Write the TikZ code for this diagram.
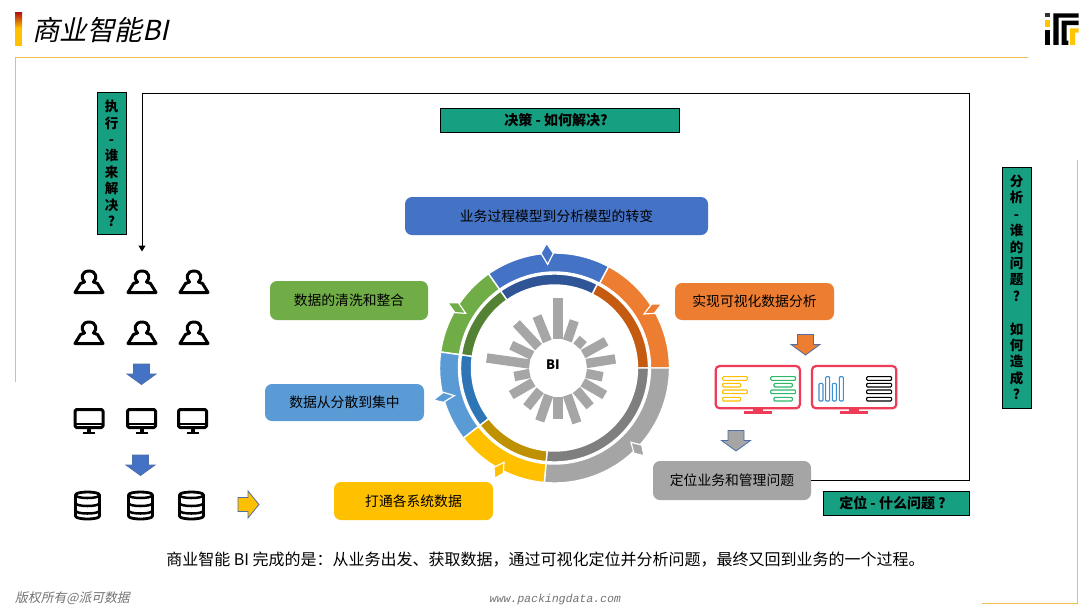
\documentclass[tikz,border=0pt]{standalone}
\usepackage{fontspec}
\usetikzlibrary{arrows.meta}
\setmainfont{Noto Sans CJK SC}
\newfontfamily\slantfont[FakeSlant=0.22]{Noto Sans CJK SC}
\newfontfamily\urlfont[FakeSlant=0.2]{Liberation Mono}
\definecolor{teal1}{HTML}{179F82}
\definecolor{frameO}{HTML}{F0BC55}
\definecolor{cBlue}{HTML}{4472C4}\definecolor{cBlueD}{HTML}{2F5597}
\definecolor{cOra}{HTML}{ED7D31}\definecolor{cOraD}{HTML}{C55A11}
\definecolor{cGra}{HTML}{A5A5A5}\definecolor{cGraD}{HTML}{7F7F7F}
\definecolor{cYel}{HTML}{FFC000}\definecolor{cYelD}{HTML}{BF9000}
\definecolor{cSky}{HTML}{5B9BD5}\definecolor{cSkyD}{HTML}{2E75B6}
\definecolor{cGre}{HTML}{70AD47}\definecolor{cGreD}{HTML}{548235}
\definecolor{monRed}{HTML}{EE3B57}
\definecolor{arrowEdge}{HTML}{2F5597}
\definecolor{barGray}{HTML}{A6A6A6}
\definecolor{barTop}{HTML}{B01010}
\definecolor{pillGreen}{HTML}{2DB96A}
\definecolor{pillBlue}{HTML}{3C8FD0}
\tikzset{
  rbox/.style={rounded corners=7pt,minimum width=#1,inner sep=0pt,font=\fontsize{13.8pt}{15pt}\selectfont,text=black},
  tealbox/.style={draw=black,line width=1pt,fill=teal1,inner sep=0pt,font=\fontsize{14pt}{16pt}\selectfont\bfseries,text=black},
  vbox/.style={tealbox,align=center,text width=28pt,minimum width=29pt},
  frameline/.style={draw=frameO,line width=1pt},
  conn/.style={draw=black,line width=1pt},
  icon/.style={draw=black,line width=3pt,line join=round,fill=white},
  person/.pic={\path[icon] (-14,0)--(14,0)--(8.5,-9)--(4.5,-10.5) .. controls (8.5,-14) and (7.5,-21.5) .. (0,-21.5) .. controls (-7.5,-21.5) and (-8.5,-14) .. (-4.5,-10.5) -- (-8.5,-9) -- cycle;},
  screen/.pic={\path[icon,rounded corners=1.5pt] (-14,-11.5)rectangle(14,6.5);
    \draw[black,line width=1.2pt] (-14,3)--(14,3);
    \fill[black] (-2,6.5)rectangle(2,11); \fill[black] (-6,10.5)rectangle(6,12.8);},
  dbase/.pic={\path[draw=black,fill=white,line width=2.8pt,line join=round] (-12,-10.5) .. controls (-12,-14.5) and (12,-14.5) .. (12,-10.5) -- (12,10.5) .. controls (12,14.5) and (-12,14.5) .. (-12,10.5) -- cycle;
    \draw[black,line width=2.5pt] (-12,-10.5) .. controls (-12,-6.5) and (12,-6.5) .. (12,-10.5);
    \draw[black,line width=2.5pt] (-12,-2.5) .. controls (-12,1.5) and (12,1.5) .. (12,-2.5);
    \draw[black,line width=2.5pt] (-12,5) .. controls (-12,9) and (12,9) .. (12,5);},
  darrow/.pic={\path[draw=arrowEdge!85,fill=#1,line width=.8pt] (-8,0)--(8,0)--(8,10)--(14.5,10)--(0,20.5)--(-14.5,10)--(-8,10)--cycle;},
  seg/.style={line width=1.4pt,draw=white},
  notchmark/.style={draw=white,line width=1.2pt},
  mon/.style={draw=monRed,line width=2.2pt,rounded corners=4pt,fill=white},
  pill/.style={rounded corners=1pt,line width=1.1pt,fill=white}
}
% annular sector: center set by scope; #1 colour, #2 start, #3 end, #4 inner r, #5 outer r
\newcommand{\ringseg}[5]{\path[fill=#1,seg] (#2:#4) arc[start angle=#2,end angle=#3,radius=#4] -- (#3:#5) arc[start angle=#3,end angle=#2,radius=#5] -- cycle;}
\newcommand{\raybar}[2]{\fill[barGray,rotate=-#1] (-4.7,28.7) rectangle (4.7,#2);}
\begin{document}
\begin{tikzpicture}[x=1pt,y=-1pt]
\useasboundingbox (0,0) rectangle (1092,611);
\fill[white] (0,0) rectangle (1092,611);
% title
\shade[top color=barTop,bottom color=cYel] (15,12) rectangle (22,28);
\fill[cYel] (15,28) rectangle (22,45.5);
\node[anchor=west,inner sep=0pt,font=\slantfont\fontsize{27.5pt}{30pt}\selectfont] (title) at (32,29.5) {商业智能BI};
% logo
\begin{scope}[shift={(960,0)},x=.3333pt,y=-.3333pt]
\fill[black!80] (255,40) rectangle (271,51);
\fill[cYel!90!yellow] (255,60) rectangle (271,81);
\fill[black] (255,90) rectangle (271,135);
\fill[black] (280,135) -- (280,40) -- (356,40) -- (356,53) -- (296,53) -- (296,135) -- cycle;
\fill[black] (305,135) -- (305,62) -- (356,62) -- (356,75) -- (320,75) -- (320,122) -- (325,122) -- (325,135) -- cycle;
\fill[cYel!90!yellow] (330,135) -- (330,85) -- (356,85) -- (356,98) -- (345,98) -- (345,135) -- cycle;
\end{scope}
% frame lines
\draw[frameline] (15.5,382) -- (15.5,57.5) -- (1028,57.5);
\draw[frameline] (1077.5,160) -- (1077.5,603) -- (982,603);
% colored boxes
\node[rbox=303pt,minimum height=38pt,fill=cBlue] (b1) at (556.5,216) {业务过程模型到分析模型的转变};
\node[rbox=158pt,minimum height=39pt,fill=cGre] (b2) at (349,300.5) {数据的清洗和整合};
\node[rbox=159pt,minimum height=37pt,fill=cOra] (b3) at (754.5,301.5) {实现可视化数据分析};
\node[rbox=159pt,minimum height=37pt,fill=cSky] (b4) at (344.5,402.5) {数据从分散到集中};
\node[rbox=159pt,minimum height=38pt,fill=cYel] (b5) at (413.5,501) {打通各系统数据};
\node[rbox=158pt,minimum height=39pt,fill=cGra] (b6) at (732,480.5) {定位业务和管理问题};
% teal boxes
\node[tealbox,minimum width=239pt,minimum height=24pt] (t1) at (559.5,120) {决策 - 如何解决?\hspace*{7pt}};
\node[tealbox,minimum width=146pt,minimum height=24pt] (t2) at (896,503) {定位 - 什么问题 ?\hspace*{7pt}};
\node[vbox,minimum height=142pt,font=\fontsize{13.5pt}{16.4pt}\selectfont\bfseries] (t3) at (111.5,163.5) {执\\行\\-\\谁\\来\\解\\决\\?};
\node[vbox,minimum height=241pt,font=\fontsize{13.5pt}{16.4pt}\selectfont\bfseries] (t4) at (1016.5,287.5) {分\\析\\-\\谁\\的\\问\\题\\?\\~\\如\\何\\造\\成\\?};
% connector
\coordinate (c1) at (969,480.5);
\coordinate (c2) at (969,93);
\coordinate (c3) at (142,93);
\coordinate (c4) at (142,251.5);
\draw[conn,-{Triangle[length=6pt,width=7pt]}] (b6.east) -- (c1) -- (c2) -- (c3) -- (c4);
% wheel
\begin{scope}[shift={(554.5,368)},x=1pt,y=1pt]
\ringseg{cOra}{0}{62}{96}{115}
\ringseg{cBlue}{62}{125}{96}{115}
\ringseg{cGre}{125}{172}{96}{115}
\ringseg{cSky}{172}{217.6}{96}{115}
\ringseg{cYel}{217.6}{265}{96}{115}
\ringseg{cGra}{265}{360}{96}{115}
\ringseg{cOraD}{0}{63}{83}{94}
\ringseg{cBlueD}{63}{125}{83}{94}
\ringseg{cGreD}{125}{172}{83}{94}
\ringseg{cSkyD}{172}{217.6}{83}{94}
\ringseg{cYelD}{217.6}{265}{83}{94}
\ringseg{cGraD}{265}{360}{83}{94}
\end{scope}
% wheel markers (positions in 3x crop coordinates)
\begin{scope}[shift={(420,230)},x=.3333pt,y=-.3333pt]
\path[fill=cBlue,notchmark] (380,40)--(400,70)--(383,103)--(363,70)--cycle;
\path[fill=cOra,notchmark] (695,222)--(725,222)--(703,250)--(672,252)--cycle;
\path[fill=cGra,notchmark] (633,637)--(665,645)--(672,677)--(642,670)--cycle;
\path[fill=cYel,notchmark] (222,712)--(252,697)--(250,730)--(224,745)--cycle;
\path[fill=cSky,notchmark] (70,487)--(103,497)--(70,517)--(40,510)--cycle;
\path[fill=cGre,notchmark] (83,218)--(115,218)--(137,250)--(105,248)--cycle;
\end{scope}
% central rays
\begin{scope}[shift={(558,368)},x=1pt,y=1pt]
\raybar{0}{70}\raybar{19}{50}\raybar{41}{38.5}\raybar{61}{55}\raybar{81}{58}\raybar{101}{45.5}
\raybar{120}{54}\raybar{140}{50}\raybar{161}{58}\raybar{180}{51}\raybar{199}{56}\raybar{218.5}{50}
\raybar{240}{54}\raybar{259}{44.5}\raybar{278}{72}\raybar{296}{52}\raybar{317}{61}\raybar{338}{56}
\end{scope}
\node[font=\fontsize{13pt}{15pt}\selectfont\bfseries,inner sep=0pt] (bi) at (553,365) {BI};
% people, screens, databases
\foreach \px in {89,142,194}{
  \foreach \py in {292.5,343.5}{
    \pic at (\px,\py) {person};
  }
}
\foreach \px in {89,141.5,192.5}{
  \pic at (\px,421) {screen};
}
\foreach \px in {87.5,140.5,191.5}{
  \pic at (\px,505.5) {dbase};
}
% arrows
\pic at (141.5,364) {darrow=cBlue};
\pic at (140.5,455) {darrow=cBlue};
\pic at (805.5,334.5) {darrow=cOra};
\pic at (736,430.5) {darrow=cGra};
\path[draw=arrowEdge!85,fill=cYel,line width=.8pt] (238,497.5)--(248,497.5)--(248,491)--(259,504.5)--(248,518)--(248,511.5)--(238,511.5)--cycle;
% red monitors (3x crop coordinates)
\begin{scope}[shift={(700,320)},x=.3333pt,y=-.3333pt]
\foreach \dx in {0,289}{
  \path[mon] (47+\dx,138) rectangle (300+\dx,265);
  \fill[monRed] (158+\dx,265) rectangle (188+\dx,274);
  \fill[monRed] (132+\dx,274) rectangle (215+\dx,281);
}
\foreach \a/\b/\c in {68/142/170,68/122/190,68/142/210,68/122/232}{\path[pill,draw=cYel] (\a,\c) rectangle (\b,\c+11);}
\foreach \a/\b/\c in {212/287/170,222/277/190,212/287/210,222/277/232}{\path[pill,draw=pillGreen] (\a,\c) rectangle (\b,\c+11);}
\foreach \a/\c in {357/190,377/170,397/190,418/170}{\path[pill,draw=pillBlue] (\a,\c) rectangle (\a+12,243);}
\foreach \c in {170,190,210,232}{\path[pill,draw=black] (500,\c) rectangle (575,\c+11);}
\end{scope}
% caption and footers
\node[inner sep=0pt,font=\fontsize{16pt}{18pt}\selectfont] (cap) at (545.5,560) {商业智能 BI 完成的是：从业务出发、获取数据，通过可视化定位并分析问题，最终又回到业务的一个过程。};
\node[anchor=west,inner sep=0pt,text=black!55,font=\slantfont\fontsize{12.8pt}{14pt}\selectfont] (f1) at (15,598) {版权所有@派可数据};
\node[anchor=west,inner sep=0pt,text=black!55,font=\urlfont\fontsize{11.5pt}{13pt}\selectfont] (f2) at (489,600) {www.packingdata.com};
\end{tikzpicture}
\end{document}
